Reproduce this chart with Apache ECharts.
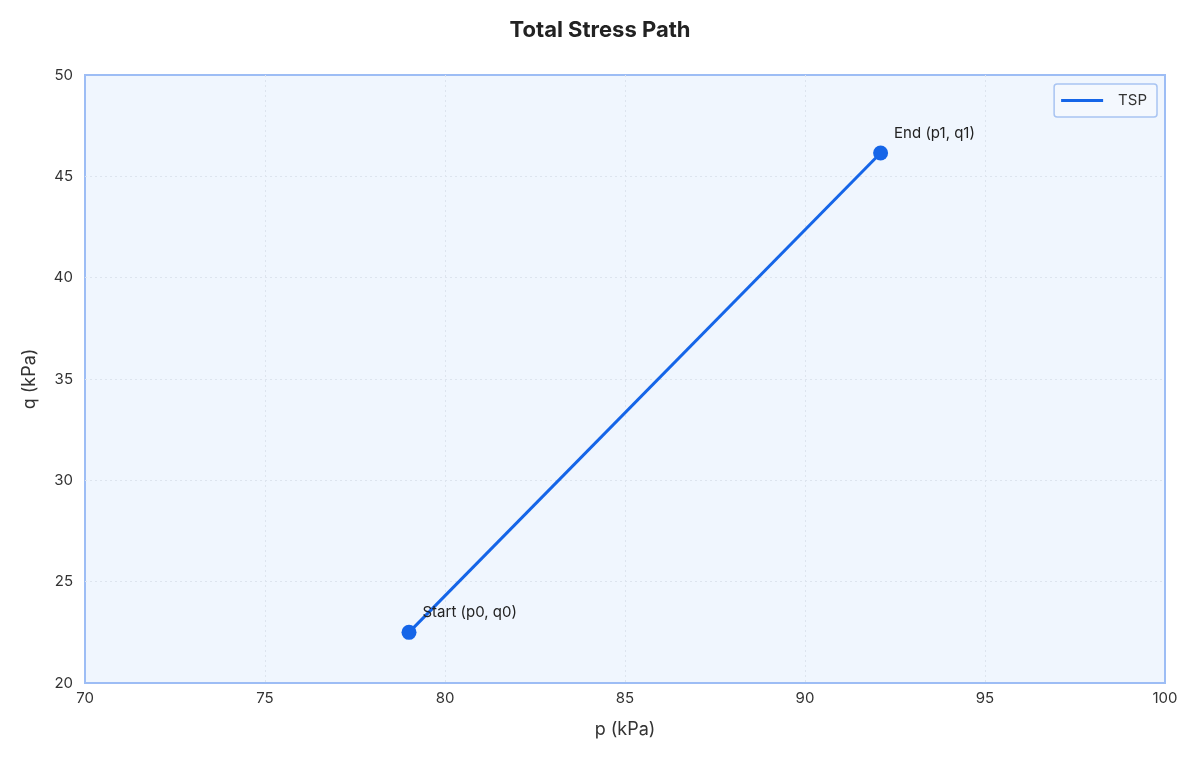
<!DOCTYPE html>
<html>
<head>
<meta charset="utf-8">
<title>Total Stress Path</title>
<script src="https://cdn.jsdelivr.net/npm/echarts@6/dist/echarts.min.js"></script>
<style>
  html, body { margin: 0; padding: 0; background: #fff; }
  #main { width: 1200px; height: 760px; }
</style>
</head>
<body>
<div id="main"></div>
<script>
// stress path points (p, q) in kPa
const pointNames = ['Start (p0, q0)', 'End (p1, q1)']
const pValues = [79.0, 92.1]
const qValues = [22.5, 46.15]

const xMin = 70, xMax = 100, xStep = 5
const yMin = 20, yMax = 50, yStep = 5

const font = 'Inter, "Noto Sans", sans-serif'
const blue = '#1565e8'

let pathData = pValues.map((p, i) => [p, qValues[i]])
let labelData = pValues.map((p, i) => ({ value: [p, qValues[i]], name: pointNames[i] }))

var chart = echarts.init(document.getElementById('main'))
chart.setOption({
  animation: false,
  textStyle: { fontFamily: font },
  title: {
    text: 'Total Stress Path',
    left: 'center',
    top: 14,
    textStyle: { fontSize: 22, fontWeight: 'bold', color: '#222', fontFamily: font }
  },
  legend: {
    data: ['TSP'],
    right: 43,
    top: 84,
    itemWidth: 42,
    itemHeight: 3,
    itemGap: 10,
    padding: [9, 10, 9, 7],
    backgroundColor: '#f4f8fe',
    borderColor: '#a8c4f2',
    borderWidth: 1.5,
    borderRadius: 3,
    icon: 'rect',
    textStyle: { fontSize: 15, color: '#333', fontFamily: font, padding: [0, 0, 0, 10] }
  },
  grid: {
    left: 85, right: 35, top: 75, bottom: 77,
    show: true,
    backgroundColor: '#f0f6fe',
    borderColor: '#9dbdf5',
    borderWidth: 2
  },
  xAxis: {
    type: 'value',
    min: xMin, max: xMax, interval: xStep,
    name: 'p (kPa)',
    nameLocation: 'middle',
    nameGap: 38,
    nameTextStyle: { fontSize: 18, color: '#333', fontFamily: font },
    axisLine: { show: false },
    axisTick: { show: false },
    axisLabel: { fontSize: 15, color: '#333', margin: 8, fontFamily: font },
    splitLine: { show: true, showMinLine: false, showMaxLine: false, lineStyle: { color: '#dde4ee', type: [2, 3], width: 1 } }
  },
  yAxis: {
    type: 'value',
    min: yMin, max: yMax, interval: yStep,
    name: 'q (kPa)',
    nameLocation: 'middle',
    nameGap: 46,
    nameTextStyle: { fontSize: 18, color: '#333', fontFamily: font },
    axisLine: { show: false },
    axisTick: { show: false },
    axisLabel: { fontSize: 15, color: '#333', margin: 12, fontFamily: font },
    splitLine: { show: true, showMinLine: false, showMaxLine: false, lineStyle: { color: '#dde4ee', type: [2, 3], width: 1 } }
  },
  series: [
    {
      name: 'TSP',
      type: 'line',
      data: pathData,
      showSymbol: false,
      lineStyle: { color: blue, width: 3 },
      itemStyle: { color: blue },
      z: 2
    },
    {
      name: 'points',
      type: 'scatter',
      data: labelData,
      symbolSize: 15,
      itemStyle: { color: blue, opacity: 1 },
      label: {
        show: true,
        formatter: '{b}',
        position: 'right',
        offset: [1, -20],
        fontSize: 15,
        color: '#222',
        fontFamily: font
      },
      z: 3
    }
  ]
})
</script>
</body>
</html>
